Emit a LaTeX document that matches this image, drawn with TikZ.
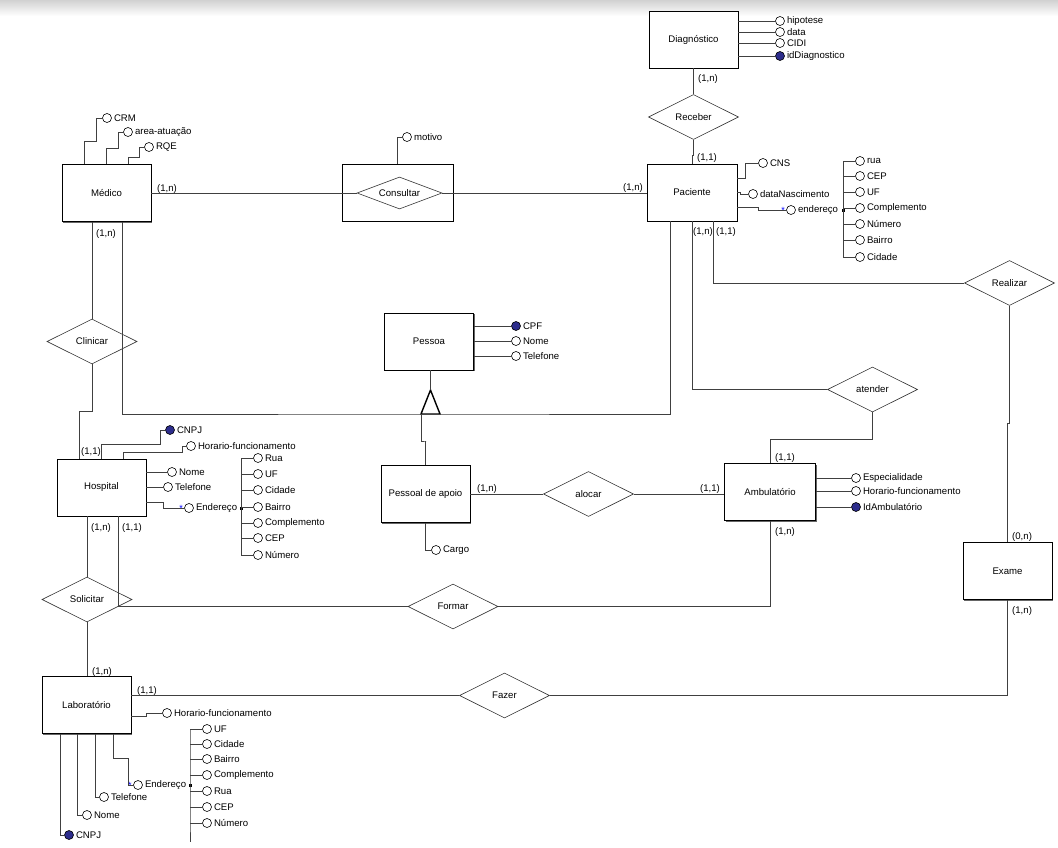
\documentclass[tikz,border=0pt]{standalone}
\usepackage{fontspec}
\setmainfont{Liberation Sans}
\usetikzlibrary{shapes.geometric,shadows}
\definecolor{keyblue}{RGB}{45,45,140}

\begin{document}
\begin{tikzpicture}[x=1pt, y=-1pt,
  entity/.style={draw, fill=white, line width=0.8pt, minimum width=89pt, minimum height=57pt, inner sep=0pt,
    drop shadow={shadow xshift=1.2pt, shadow yshift=-1.2pt, fill=black!60, opacity=1}},
  rel/.style={diamond, aspect=2, draw=black!80, line width=0.6pt, minimum width=90pt, minimum height=45pt, inner sep=0pt},
  attr/.style={circle, draw, fill=white, line width=0.6pt, minimum size=9pt, inner sep=0pt, label={[inner sep=2pt]right:#1}},
  keyattr/.style={attr=#1, fill=keyblue},
  card/.style={inner sep=0pt, anchor=west},
  multi/.style={text=blue, inner sep=0pt, font=\small},
  joint/.style={fill=black, inner sep=0pt, minimum size=3pt},
  link/.style={draw=black!75, line width=0.8pt}]

\fontsize{9.6pt}{11pt}\selectfont
\path [use as bounding box] (0,0) rectangle (1058,847);
\shade [top color=black!18, bottom color=white] (0,0) rectangle (1058,16);

% ENTITIES
\node[entity] (diag) at (693.5,39.5) {Diagnóstico};
\node[entity, minimum width=90pt] (paciente) at (692,192.5) {Paciente};
\node[entity] (medico) at (106.5,193) {Médico};
\node[entity] (pessoa) at (429,341.5) {Pessoa};
\node[entity] (apoio) at (425.5,494) {Pessoal de apoio};
\node[entity, minimum width=91pt] (ambul) at (770,492) {Ambulatório};
\node[entity] (exame) at (1007.5,571) {Exame};
\node[entity] (hospital) at (101.5,487.5) {Hospital};
\node[entity] (lab) at (86.5,705) {Laboratório};
\node[entity, minimum width=111pt] (agg) at (397.5,192.5) {};

% RELATIONSHIPS
\node[rel] (receber) at (693.5,117) {Receber};
\node[rel, aspect=2.65, minimum width=85pt, minimum height=32pt] (consultar) at (399.5,193) {Consultar};
\node[rel] (clinicar) at (92,341.5) {Clinicar};
\node[rel] (atender) at (872.5,389.5) {atender};
\node[rel] (realizar) at (1009.5,283) {Realizar};
\node[rel] (alocar) at (588.5,494) {alocar};
\node[rel] (solicitar) at (87,599.5) {Solicitar};
\node[rel] (formar) at (453,606.5) {Formar};
\node[rel] (fazer) at (504.5,695.5) {Fazer};

% GENERALIZATION
\coordinate (isa) at (430.5,414);
\draw [line width=1.4pt] (isa) +(-9.5,0) -- +(0,-24) -- +(9.5,0) -- cycle;
\draw [link] (isa) ++(0,-24) -- (pessoa.south -| isa);
\draw [link] (medico.south) ++(15.5,0) |- (isa) -| ([xshift=-22pt]paciente.south);
\draw [link] (isa) ++(-9.5,0) |- ++(5,27) -| (apoio.north);

% RELATIONSHIP LINKS
\draw [link] (diag.south) -- (diag.south |- receber.north);
\draw [link] (receber.south) -- ++(0,16) -| (paciente.north);
\draw [link] (medico.east) -- (consultar.west);
\draw [link] (consultar.east) -- (consultar.east -| paciente.west);
\draw [link] (clinicar.north) -- (clinicar.north |- medico.south);
\draw [link] (hospital.north) ++(-22.5,0) |- ++(13,-47) -- (clinicar.south);
\draw [link] (paciente.south) |- (atender.west);
\draw [link] (atender.south) -- ++(0,27) -| (ambul.north);
\draw [link] (paciente.south) ++(21,0) |- (realizar.west);
\draw [link] (realizar.south) -- ++(0,118) -| (exame.north);
\draw [link] (exame.south) |- (fazer.east);
\draw [link] (fazer.west) -- (fazer.west -| lab.east);
\draw [link] (solicitar.south) -- (solicitar.south |- lab.north);
\draw [link] (hospital.south) ++(-14.5,0) -- (solicitar.north);
\draw [link] (hospital.south) ++(16.5,0) |- (formar.west);
\draw [link] (formar.east) -| (ambul.south);
\draw [link] (apoio.east) -- (alocar.west);
\draw [link] (alocar.east) -- (alocar.east -| ambul.west);

% CARDINALITIES
\node[card] (cdiag) at (698,79) {(1,n)};
\node[card] (cpacrec) at (697,158) {(1,1)};
\node[card] (cmedcon) at (157,189) {(1,n)};
\node[card] (cpaccon) at (623,188) {(1,n)};
\node[card] (cmedcli) at (96,234) {(1,n)};
\node[card] (chospcli) at (81,452) {(1,1)};
\node[card] (cpacate) at (693,232) {(1,n)};
\node[card] (cpacrea) at (716,232) {(1,1)};
\node[card] (cambate) at (775,458) {(1,1)};
\node[card] (cexarea) at (1012,537) {(0,n)};
\node[card] (cexafaz) at (1012,611) {(1,n)};
\node[card] (clabfaz) at (137,691) {(1,1)};
\node[card] (clabsol) at (92,672) {(1,n)};
\node[card] (chospsol) at (91,528) {(1,n)};
\node[card] (chospfor) at (122,528) {(1,1)};
\node[card] (cambfor) at (775,532) {(1,n)};
\node[card] (capoalo) at (477,489) {(1,n)};
\node[card] (cambalo) at (700,489) {(1,1)};

% DIAGNOSTICO
\node[attr=hipotese] (hip) at (780,21) {};
\node[attr=data] (ddata) at (780,32) {};
\node[attr=CIDI] (cidi) at (780,43) {};
\node[keyattr=idDiagnostico] (iddiag) at (780,56) {};
\draw [link] (diag.east |- hip) -- (hip);
\draw [link] (diag.east |- ddata) -- (ddata);
\draw [link] (diag.east |- cidi) -- (cidi);
\draw [link] (diag.east |- iddiag) -- (iddiag);

% MEDICO
\node[attr=CRM] (crm) at (107,118) {};
\node[attr=area-atuação] (area) at (128,132) {};
\node[attr=RQE] (rqe) at (149,147) {};
\draw [link] (medico.north) ++(-22.5,0) |- ++(12,-23) |- (crm);
\draw [link] (medico.north) |- ++(12,-16) |- (area);
\draw [link] (medico.north) ++(21.5,0) |- ++(11,-7) |- (rqe);

% CONSULTAR
\node[attr=motivo] (motivo) at (407,137) {};
\draw [link] (agg.north) |- (motivo);

% PACIENTE
\node[attr=CNS] (cns) at (763,163) {};
\node[attr=dataNascimento] (nasc) at (753,194) {};
\node[attr=endereço] (pend) at (791,210) {};
\node[multi] (past) at (783,210) {*};
\node[joint] (pdot) at (843,210) {};
\node[attr=rua] (prua) at (860,161) {};
\node[attr=CEP] (pcep) at (860,176) {};
\node[attr=UF] (puf) at (860,192) {};
\node[attr=Complemento] (pcomp) at (860,208) {};
\node[attr=Número] (pnum) at (860,224) {};
\node[attr=Bairro] (pbai) at (860,240) {};
\node[attr=Cidade] (pcid) at (860,257) {};
\draw [link] (paciente.east) ++(0,-14.5) -- ++(8,0) |- (cns);
\draw [link] (paciente.east) -- ++(3,0) |- (nasc);
\draw [link] (paciente.east) ++(0,14.5) -- ++(21,0) |- (pend);
\draw [link] (pdot |- prua) -- (pdot |- pcid);
\draw [link] (pdot |- prua) -- (prua);
\draw [link] (pdot |- pcep) -- (pcep);
\draw [link] (pdot |- puf) -- (puf);
\draw [link] (pdot |- pcomp) -- (pcomp);
\draw [link] (pdot |- pnum) -- (pnum);
\draw [link] (pdot |- pbai) -- (pbai);
\draw [link] (pdot |- pcid) -- (pcid);

% PESSOA
\node[keyattr=CPF] (cpf) at (516,326) {};
\node[attr=Nome] (pnome) at (516,341) {};
\node[attr=Telefone] (ptel) at (516,356) {};
\draw [link] (pessoa.east |- cpf) -- (cpf);
\draw [link] (pessoa.east |- pnome) -- (pnome);
\draw [link] (pessoa.east |- ptel) -- (ptel);

% PESSOAL DE APOIO
\node[attr=Cargo] (cargo) at (436,550) {};
\draw [link] (apoio.south) |- (cargo);

% AMBULATORIO
\node[attr=Especialidade] (esp) at (856,478) {};
\node[attr=Horario-funcionamento] (ahor) at (856,491) {};
\node[keyattr=IdAmbulatório] (idamb) at (856,507) {};
\draw [link] (ambul.east |- esp) -- (esp);
\draw [link] (ambul.east |- ahor) -- (ahor);
\draw [link] (ambul.east |- idamb) -- (idamb);

% HOSPITAL
\node[keyattr=CNPJ] (hcnpj) at (170,430) {};
\node[attr=Horario-funcionamento] (hhor) at (191,446) {};
\node[attr=Nome] (hnome) at (172,472) {};
\node[attr=Telefone] (htel) at (168,487) {};
\node[attr=Endereço] (hend) at (189,508) {};
\node[multi] (hast) at (181,508) {*};
\node[joint] (hdot) at (241,508) {};
\node[attr=Rua] (hrua) at (258,458) {};
\node[attr=UF] (huf) at (258,474) {};
\node[attr=Cidade] (hcid) at (258,490) {};
\node[attr=Bairro] (hbai) at (258,507) {};
\node[attr=Complemento] (hcomp) at (258,523) {};
\node[attr=CEP] (hcep) at (258,538) {};
\node[attr=Número] (hnum) at (258,555) {};
\draw [link] (hospital.north) |- ++(58.5,-14) |- (hcnpj);
\draw [link] (hospital.north) ++(21.5,0) |- ++(59,-6) |- (hhor);
\draw [link] (hospital.east |- hnome) -- (hnome);
\draw [link] (hospital.east |- htel) -- (htel);
\draw [link] (hospital.east) ++(0,14.5) -- ++(17,0) |- (hend);
\draw [link] (hdot |- hrua) -- (hdot |- hnum);
\draw [link] (hdot |- hrua) -- (hrua);
\draw [link] (hdot |- huf) -- (huf);
\draw [link] (hdot |- hcid) -- (hcid);
\draw [link] (hdot |- hbai) -- (hbai);
\draw [link] (hdot |- hcomp) -- (hcomp);
\draw [link] (hdot |- hcep) -- (hcep);
\draw [link] (hdot |- hnum) -- (hnum);

% LABORATORIO
\node[attr=Horario-funcionamento] (lhor) at (167,713) {};
\node[keyattr=CNPJ] (lcnpj) at (69,835) {};
\node[attr=Nome] (lnome) at (87,815) {};
\node[attr=Telefone] (ltel) at (104,797) {};
\node[attr=Endereço] (lend) at (138,785) {};
\node[multi] (last) at (130,785) {*};
\node[joint] (ldot) at (190,785) {};
\node[attr=UF] (luf) at (207,729) {};
\node[attr=Cidade] (lcid) at (207,744) {};
\node[attr=Bairro] (lbai) at (207,759) {};
\node[attr=Complemento] (lcomp) at (207,775) {};
\node[attr=Rua] (lrua) at (207,791) {};
\node[attr=CEP] (lcep) at (207,807) {};
\node[attr=Número] (lnum) at (207,823) {};
\draw [link] (lab.east) ++(0,11) -- ++(15,0) |- (lhor);
\draw [link] (lab.south) ++(-26.5,0) |- (lcnpj);
\draw [link] (lab.south) ++(-9.5,0) |- (lnome);
\draw [link] (lab.south) ++(8.5,0) |- (ltel);
\draw [link] (lab.south) ++(26.5,0) |- ++(15,24) |- (lend);
\draw [link] (ldot |- luf) -- (ldot |- lnum) -- ++(0,19);
\draw [link] (ldot |- luf) -- (luf);
\draw [link] (ldot |- lcid) -- (lcid);
\draw [link] (ldot |- lbai) -- (lbai);
\draw [link] (ldot |- lcomp) -- (lcomp);
\draw [link] (ldot |- lrua) -- (lrua);
\draw [link] (ldot |- lcep) -- (lcep);
\draw [link] (ldot |- lnum) -- (lnum);

\end{tikzpicture}
\end{document}
